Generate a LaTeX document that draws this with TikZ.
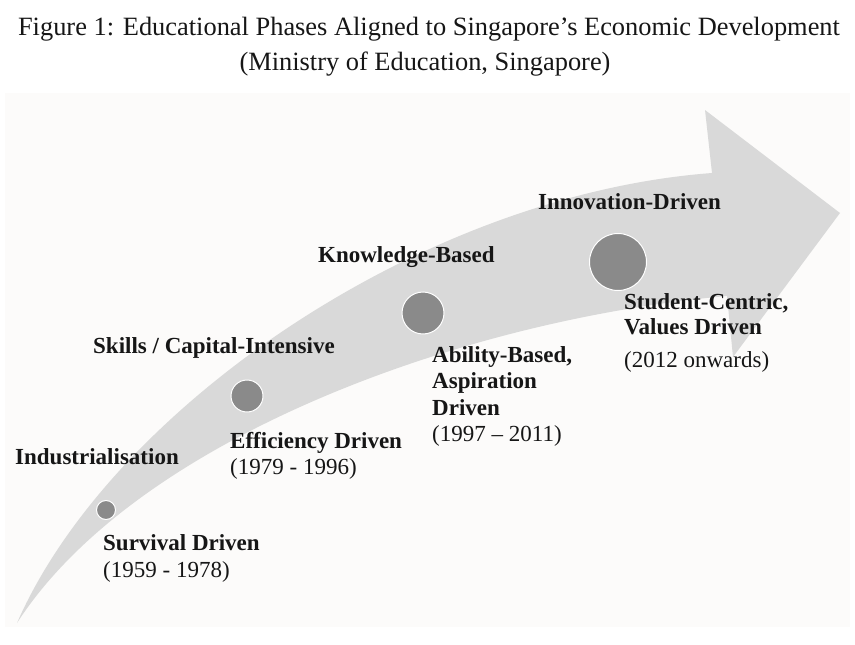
\documentclass[tikz,border=0pt]{standalone}
\usepackage{fontspec}
\setmainfont{Liberation Serif}
\definecolor{arrowgray}{RGB}{217,217,217}
\definecolor{dotgray}{RGB}{138,138,138}
\definecolor{bgpale}{RGB}{252,251,250}
\definecolor{ink}{RGB}{22,22,22}
\begin{document}
\begin{tikzpicture}[x=1pt,y=-1pt,
  lab/.style={anchor=base west, inner sep=0pt, font=\fontsize{23}{26}\selectfont\bfseries, text=ink},
  yr/.style={anchor=base west, inner sep=0pt, font=\fontsize{23}{26}\selectfont, text=ink},
  ttl/.style={anchor=base, inner sep=0pt, font=\fontsize{26.4}{30}\selectfont, text=ink},
  dot/.style={circle, fill=dotgray, draw=white, line width=1pt, inner sep=0pt}]
\useasboundingbox (0,0) rectangle (855,645);
\fill[bgpale] (5,93) rectangle (850,627);
% arrow
\coordinate (tail) at (17,623);
\coordinate (un) at (712,173);
\coordinate (hc) at (705,110);
\coordinate (tip) at (840,213);
\coordinate (lc) at (733,357);
\coordinate (ln) at (727,296);
\fill[arrowgray] (tail) .. controls (110,410) and (420,195) .. (un) -- (hc) -- (tip) -- (lc) -- (ln) .. controls (460,320) and (135,440) .. (tail) -- cycle;
% dots
\node[dot, minimum size=19pt] (d1) at (106,510) {};
\node[dot, minimum size=32pt] (d2) at (247,396) {};
\node[dot, minimum size=42pt] (d3) at (423,313) {};
\node[dot, minimum size=57pt] (d4) at (618,262) {};
% title
\node[ttl] (t1) at (429,35) {Figure 1: Educational Phases Aligned to Singapore’s Economic Development};
\node[ttl] (t2) at (425,70) {(Ministry of Education, Singapore)};
% upper labels
\node[lab] (e1) at (15,464) {Industrialisation};
\node[lab] (e2) at (93,353) {Skills / Capital-Intensive};
\node[lab] (e3) at (318,262) {Knowledge-Based};
\node[lab] (e4) at (538,209) {Innovation-Driven};
% lower labels
\node[lab] (p1a) at (103,550) {Survival Driven};
\node[yr]  (p1b) at (103,577) {(1959 - 1978)};
\node[lab] (p2a) at (230,448) {Efficiency Driven};
\node[yr]  (p2b) at (230,474) {(1979 - 1996)};
\node[lab] (p3a) at (432,362) {Ability-Based,};
\node[lab] (p3b) at (432,388) {Aspiration};
\node[lab] (p3c) at (432,415) {Driven};
\node[yr]  (p3d) at (432,441) {(1997 – 2011)};
\node[lab] (p4a) at (624,309) {Student-Centric,};
\node[lab] (p4b) at (624,334) {Values Driven};
\node[yr]  (p4c) at (624,367) {(2012 onwards)};
\end{tikzpicture}
\end{document}
